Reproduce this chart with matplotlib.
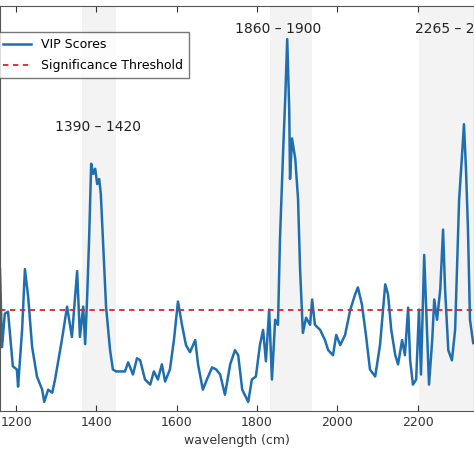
import matplotlib
matplotlib.use("Agg")
import matplotlib.pyplot as plt

wavelength = [1160,1165,1172,1180,1192,1202,1205,1215,1222,1230,1240,1252,1265,1270,1280,1290,1297,1314,1327,1339,1352,1359,1367,1372,1377,1382,1387,1392,1397,1402,1407,1411,1416,1424,1434,1441,1449,1459,1471,1479,1491,1501,1509,1521,1534,1543,1553,1563,1571,1583,1593,1603,1613,1623,1633,1646,1653,1665,1675,1688,1698,1708,1720,1733,1745,1753,1763,1778,1787,1797,1807,1815,1822,1830,1837,1845,1852,1857,1865,1870,1875,1880,1882,1887,1895,1902,1907,1914,1922,1932,1937,1944,1957,1969,1977,1989,1997,2007,2019,2032,2044,2051,2061,2071,2081,2094,2106,2119,2126,2134,2144,2151,2161,2168,2176,2181,2188,2196,2203,2208,2216,2223,2228,2236,2241,2248,2256,2263,2268,2276,2285,2293,2303,2308,2315,2320,2325,2330,2338]
vip = [1.40,0.63,0.96,0.98,0.44,0.41,0.24,0.80,1.40,1.13,0.63,0.34,0.21,0.09,0.21,0.18,0.31,0.70,1.03,0.73,1.38,0.73,1.03,0.66,1.13,1.72,2.44,2.34,2.39,2.24,2.29,2.14,1.72,1.03,0.60,0.41,0.39,0.39,0.39,0.48,0.36,0.52,0.50,0.31,0.26,0.39,0.31,0.46,0.29,0.41,0.70,1.08,0.85,0.65,0.58,0.70,0.46,0.21,0.31,0.43,0.41,0.36,0.16,0.46,0.60,0.55,0.21,0.09,0.31,0.34,0.65,0.80,0.49,1.00,0.31,0.90,0.85,1.70,2.58,3.08,3.67,2.98,2.29,2.69,2.49,2.09,1.40,0.77,0.92,0.85,1.10,0.85,0.80,0.70,0.60,0.55,0.75,0.65,0.75,1.00,1.15,1.22,1.05,0.75,0.41,0.34,0.65,1.25,1.15,0.80,0.55,0.46,0.70,0.55,1.02,0.50,0.26,0.31,1.00,0.36,1.54,0.80,0.26,0.70,1.10,0.90,1.20,1.79,1.20,0.60,0.50,0.80,2.09,2.39,2.83,2.39,1.79,0.90,0.67]
threshold = 1.0
regions = [(1364, 1449), (1832, 1937), (2203, 2400)]
region_labels = ["1390 – 1420", "1860 – 1900", "2265 – 2300"]
label_pos = [(1404, 2.8), (1852, 3.77), (2300, 3.77)]

fig = plt.figure(figsize=(4.74, 4.74), dpi=100)
ax = fig.add_axes([0.0, 0.133, 1.0, 0.855])
for (a, b) in regions:
    ax.axvspan(a, b, color="#f3f3f3", zorder=0, lw=0)
ax.plot(wavelength, vip, color="#1f6fb0", lw=1.8, label="VIP Scores")
ax.axhline(threshold, color="#d62728", ls=(0, (3, 2.5)), lw=1.3, label="Significance Threshold")
for t, (x, y) in zip(region_labels, label_pos):
    ax.text(x, y, t, ha="center", va="center", fontsize=10, color="#222222")
ax.set_xlim(1160, 2340)
ax.set_ylim(0, 4.0)
ax.set_xticks([1200, 1400, 1600, 1800, 2000, 2200])
ax.set_yticks([])
ax.tick_params(axis="x", direction="in", top=True, labelsize=9, colors="#333333", length=4)
ax.set_xlabel("wavelength (cm)", fontsize=9, color="#333333")
for s in ax.spines.values():
    s.set_color("#555555")
leg = ax.legend(loc="upper left", bbox_to_anchor=(-0.02, 0.95), fontsize=9, frameon=True,
                fancybox=False, edgecolor="#555555", handlelength=2.2, borderpad=0.5,
                labelspacing=0.6)
fig.savefig("out.png", dpi=100)
